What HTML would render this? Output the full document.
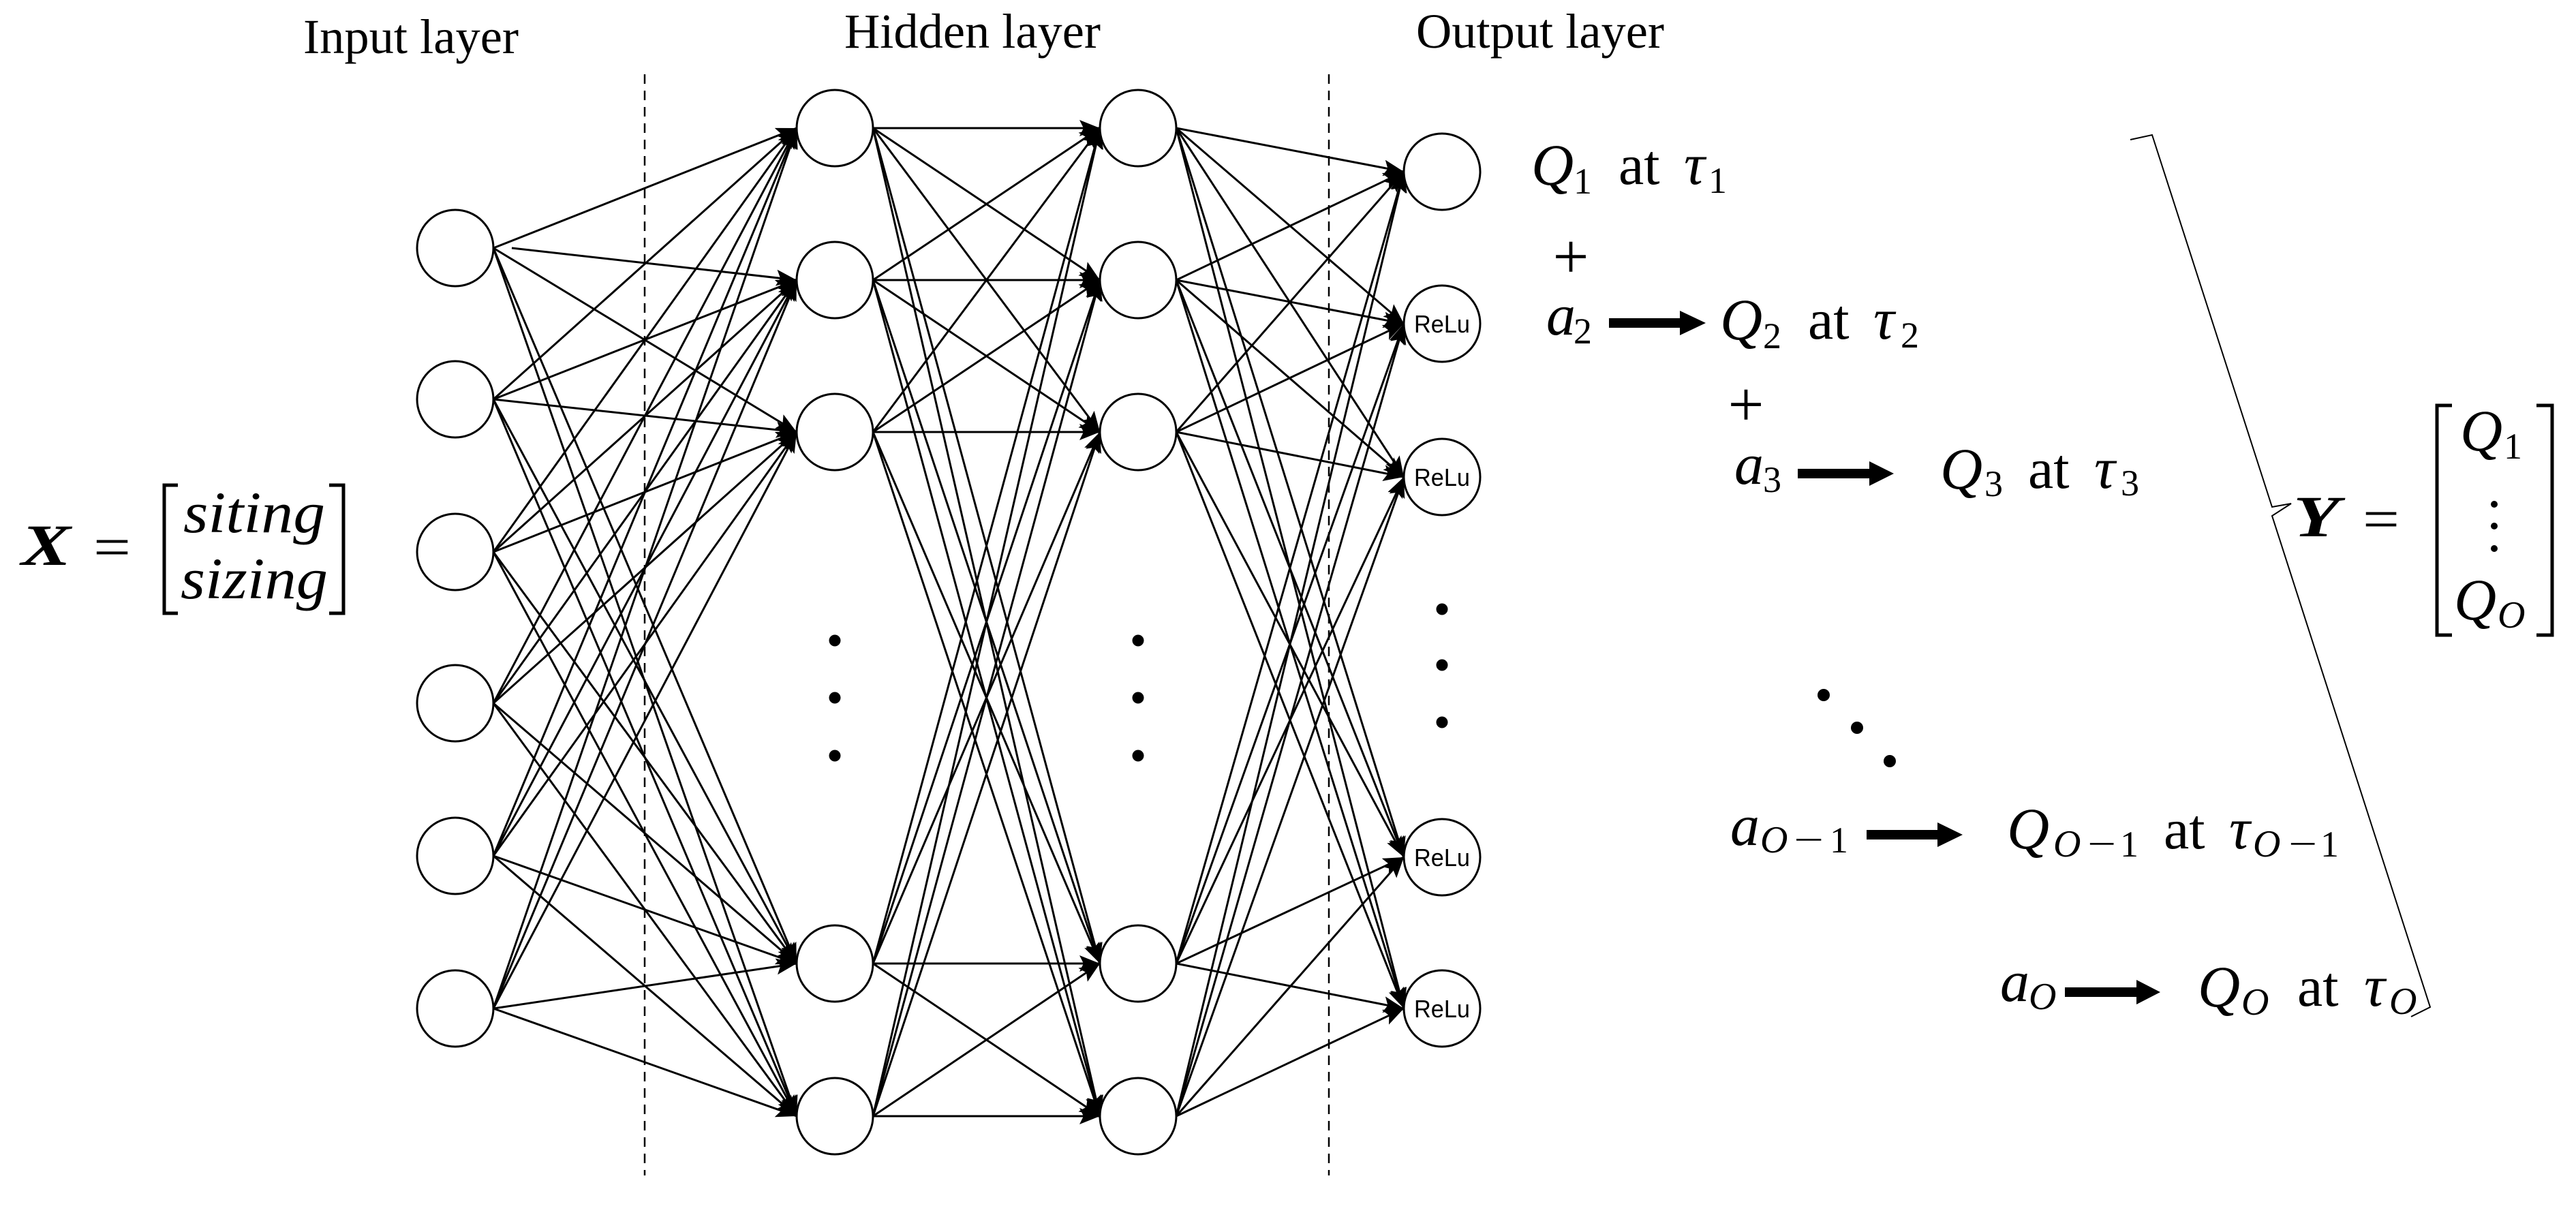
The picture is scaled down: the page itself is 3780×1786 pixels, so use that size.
<!DOCTYPE html>
<html><head><meta charset="utf-8"><style>
html,body{margin:0;padding:0;background:#fff}
svg{display:block}
text{font-family:"Liberation Serif",serif;fill:#000}
.m{font-style:italic;font-size:86px}
.s{font-size:54px}
.si{font-style:italic;font-size:56px}
.u{font-size:84px}
.p{font-size:94px}
.h{font-size:72px}
.b{font-style:italic;font-weight:bold;font-size:86px}
.r{font-family:"Liberation Sans",sans-serif;font-size:36px}
</style></head><body>
<svg width="3780" height="1786" viewBox="0 0 3780 1786" xmlns="http://www.w3.org/2000/svg">
<defs><marker id="a" markerUnits="userSpaceOnUse" markerWidth="34" markerHeight="28" refX="30" refY="12" orient="auto"><path d="M0 0L30 12L0 24L6 12Z" fill="#000"/></marker></defs>
<rect width="3780" height="1786" fill="#fff"/>
<path d="M946 109V1725M1950 109V1725" stroke="#000" stroke-width="2.5" stroke-dasharray="14 10" fill="none"/>
<g stroke="#000" stroke-width="3" fill="none" marker-end="url(#a)">
<path d="M724 364L1169 188"/><path d="M751 364L1169 411"/><path d="M724 364L1169 634"/><path d="M724 364L1169 1414"/><path d="M724 364L1169 1638"/>
<path d="M724 586L1169 188"/><path d="M724 586L1169 411"/><path d="M724 586L1169 634"/><path d="M724 586L1169 1414"/><path d="M724 586L1169 1638"/>
<path d="M724 810L1169 188"/><path d="M724 810L1169 411"/><path d="M724 810L1169 634"/><path d="M724 810L1169 1414"/><path d="M724 810L1169 1638"/>
<path d="M724 1032L1169 188"/><path d="M724 1032L1169 411"/><path d="M724 1032L1169 634"/><path d="M724 1032L1169 1414"/><path d="M724 1032L1169 1638"/>
<path d="M724 1256L1169 188"/><path d="M724 1256L1169 411"/><path d="M724 1256L1169 634"/><path d="M724 1256L1169 1414"/><path d="M724 1256L1169 1638"/>
<path d="M724 1480L1169 188"/><path d="M724 1480L1169 411"/><path d="M724 1480L1169 634"/><path d="M724 1480L1169 1414"/><path d="M724 1480L1169 1638"/>
<path d="M1281 188L1614 188"/><path d="M1281 188L1614 411"/><path d="M1281 188L1614 634"/><path d="M1281 188L1614 1414"/><path d="M1281 188L1614 1638"/>
<path d="M1281 411L1614 188"/><path d="M1281 411L1614 411"/><path d="M1281 411L1614 634"/><path d="M1281 411L1614 1414"/><path d="M1281 411L1614 1638"/>
<path d="M1281 634L1614 188"/><path d="M1281 634L1614 411"/><path d="M1281 634L1614 634"/><path d="M1281 634L1614 1414"/><path d="M1281 634L1614 1638"/>
<path d="M1281 1414L1614 188"/><path d="M1281 1414L1614 411"/><path d="M1281 1414L1614 634"/><path d="M1281 1414L1614 1414"/><path d="M1281 1414L1614 1638"/>
<path d="M1281 1638L1614 188"/><path d="M1281 1638L1614 411"/><path d="M1281 1638L1614 634"/><path d="M1281 1638L1614 1414"/><path d="M1281 1638L1614 1638"/>
<path d="M1726 188L2060 252"/><path d="M1726 188L2060 475"/><path d="M1726 188L2060 700"/><path d="M1726 188L2060 1258"/><path d="M1726 188L2060 1480"/>
<path d="M1726 411L2060 252"/><path d="M1726 411L2060 475"/><path d="M1726 411L2060 700"/><path d="M1726 411L2060 1258"/><path d="M1726 411L2060 1480"/>
<path d="M1726 634L2060 252"/><path d="M1726 634L2060 475"/><path d="M1726 634L2060 700"/><path d="M1726 634L2060 1258"/><path d="M1726 634L2060 1480"/>
<path d="M1726 1414L2060 252"/><path d="M1726 1414L2060 475"/><path d="M1726 1414L2060 700"/><path d="M1726 1414L2060 1258"/><path d="M1726 1414L2060 1480"/>
<path d="M1726 1638L2060 252"/><path d="M1726 1638L2060 475"/><path d="M1726 1638L2060 700"/><path d="M1726 1638L2060 1258"/><path d="M1726 1638L2060 1480"/>
</g>
<g fill="#fff" stroke="#000" stroke-width="3">
<circle cx="668" cy="364" r="56"/><circle cx="668" cy="586" r="56"/><circle cx="668" cy="810" r="56"/><circle cx="668" cy="1032" r="56"/><circle cx="668" cy="1256" r="56"/><circle cx="668" cy="1480" r="56"/>
<circle cx="1225" cy="188" r="56"/><circle cx="1225" cy="411" r="56"/><circle cx="1225" cy="634" r="56"/><circle cx="1225" cy="1414" r="56"/><circle cx="1225" cy="1638" r="56"/>
<circle cx="1670" cy="188" r="56"/><circle cx="1670" cy="411" r="56"/><circle cx="1670" cy="634" r="56"/><circle cx="1670" cy="1414" r="56"/><circle cx="1670" cy="1638" r="56"/>
<circle cx="2116" cy="252" r="56"/><circle cx="2116" cy="475" r="56"/><circle cx="2116" cy="700" r="56"/><circle cx="2116" cy="1258" r="56"/><circle cx="2116" cy="1480" r="56"/>
</g>
<g fill="#000">
<circle cx="1225" cy="940" r="8.5"/><circle cx="1225" cy="1024" r="8.5"/><circle cx="1225" cy="1109" r="8.5"/>
<circle cx="1670" cy="940" r="8.5"/><circle cx="1670" cy="1024" r="8.5"/><circle cx="1670" cy="1109" r="8.5"/>
<circle cx="2116" cy="894" r="8.5"/><circle cx="2116" cy="976" r="8.5"/><circle cx="2116" cy="1060" r="8.5"/>
<circle cx="2676" cy="1020" r="9"/><circle cx="2725" cy="1068" r="9"/><circle cx="2773" cy="1117" r="9"/>
<circle cx="3660" cy="740" r="5"/><circle cx="3660" cy="772" r="5"/><circle cx="3660" cy="805" r="5"/>
<polygon points="2361,467 2465,467 2465,456 2503,474 2465,492 2465,481 2361,481"/>
<polygon points="2638,688 2743,688 2743,677 2779,695 2743,713 2743,702 2638,702"/>
<polygon points="2739,1218 2843,1218 2843,1207 2880,1225 2843,1243 2843,1232 2739,1232"/>
<polygon points="3030,1449 3135,1449 3135,1438 3170,1456 3135,1474 3135,1463 3030,1463"/>
</g>
<text class="h" x="445" y="78" textLength="316" lengthAdjust="spacingAndGlyphs">Input layer</text>
<text class="h" x="1239" y="70" textLength="376" lengthAdjust="spacingAndGlyphs">Hidden layer</text>
<text class="h" x="2078" y="70" textLength="364" lengthAdjust="spacingAndGlyphs">Output layer</text>
<text class="r" x="2075" y="488" textLength="82" lengthAdjust="spacingAndGlyphs">ReLu</text>
<text class="r" x="2075" y="713" textLength="82" lengthAdjust="spacingAndGlyphs">ReLu</text>
<text class="r" x="2075" y="1271" textLength="82" lengthAdjust="spacingAndGlyphs">ReLu</text>
<text class="r" x="2075" y="1493" textLength="82" lengthAdjust="spacingAndGlyphs">ReLu</text>
<text class="b" x="31" y="829" textLength="73" lengthAdjust="spacingAndGlyphs">X</text>
<text class="u" x="137" y="831" textLength="55" lengthAdjust="spacingAndGlyphs">=</text>
<path d="M261 712H241V900H261M483 712H504V900H483" fill="none" stroke="#000" stroke-width="5"/>
<text class="m" x="269" y="781" textLength="208" lengthAdjust="spacingAndGlyphs">siting</text>
<text class="m" x="265" y="878" textLength="216" lengthAdjust="spacingAndGlyphs">sizing</text>
<text class="m" x="2247" y="271">Q</text><text class="s" x="2309" y="284">1</text><text class="u" x="2375" y="270">at</text><text class="m" x="2471" y="270">τ</text><text class="s" x="2507" y="283">1</text>
<text class="p" x="2305" y="408" text-anchor="middle">+</text>
<text class="m" x="2269" y="491">a</text><text class="s" x="2309" y="504">2</text>
<text class="m" x="2524" y="498">Q</text><text class="s" x="2587" y="511">2</text><text class="u" x="2653" y="497">at</text><text class="m" x="2749" y="497">τ</text><text class="s" x="2789" y="510">2</text>
<text class="p" x="2562" y="625" text-anchor="middle">+</text>
<text class="m" x="2545" y="710">a</text><text class="s" x="2587" y="722">3</text>
<text class="m" x="2847" y="717">Q</text><text class="s" x="2912" y="728">3</text><text class="u" x="2976" y="716">at</text><text class="m" x="3073" y="716">τ</text><text class="s" x="3112" y="727">3</text>
<text class="m" x="2539" y="1240">a</text><text class="si" x="2583" y="1251">O</text><text class="si" x="2632" y="1251" textLength="44" lengthAdjust="spacingAndGlyphs" style="font-style:normal">−</text><text class="s" x="2685" y="1251">1</text>
<text class="m" x="2945" y="1245">Q</text><text class="si" x="3013" y="1257">O</text><text class="si" x="3063" y="1257" textLength="42" lengthAdjust="spacingAndGlyphs" style="font-style:normal">−</text><text class="s" x="3111" y="1257">1</text><text class="u" x="3175" y="1245">at</text><text class="m" x="3271" y="1245">τ</text><text class="si" x="3306" y="1257">O</text><text class="si" x="3358" y="1257" textLength="42" lengthAdjust="spacingAndGlyphs" style="font-style:normal">−</text><text class="s" x="3405" y="1257">1</text>
<text class="m" x="2935" y="1469">a</text><text class="si" x="2977" y="1481">O</text>
<text class="m" x="3225" y="1477">Q</text><text class="si" x="3289" y="1489">O</text><text class="u" x="3371" y="1476">at</text><text class="m" x="3469" y="1476">τ</text><text class="si" x="3506" y="1488">O</text>
<path d="M3126 205L3158 198L3334 744L3362 739L3334 757L3566 1478L3538 1492" fill="none" stroke="#000" stroke-width="2"/>
<text class="b" x="3365" y="787" textLength="68" lengthAdjust="spacingAndGlyphs">Y</text>
<text class="u" x="3467" y="790" textLength="54" lengthAdjust="spacingAndGlyphs">=</text>
<path d="M3598 595H3576V932H3598M3722 595H3745V932H3722" fill="none" stroke="#000" stroke-width="5"/>
<text class="m" x="3610" y="661">Q</text><text class="s" x="3674" y="673">1</text>
<text class="m" x="3601" y="909">Q</text><text class="si" x="3665" y="921">O</text>
</svg>
</body></html>
